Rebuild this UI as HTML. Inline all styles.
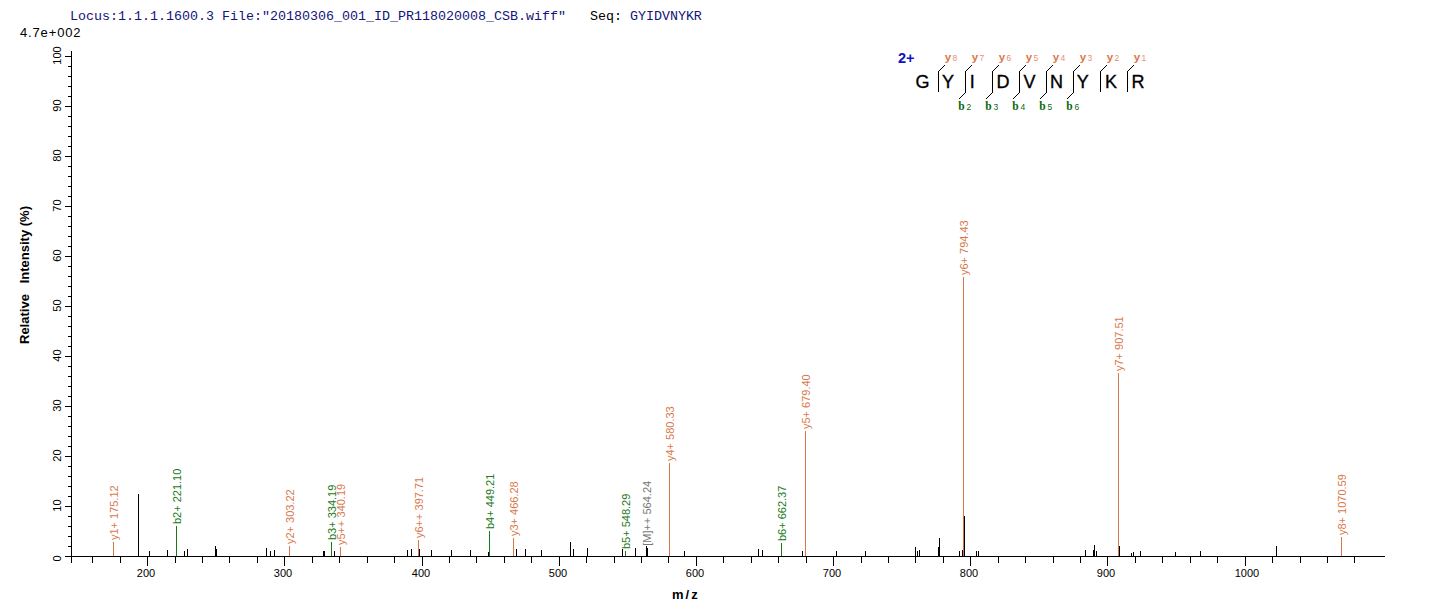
<!DOCTYPE html><html><head><meta charset="utf-8"><style>html,body{margin:0;padding:0;background:#fff;}body{width:1436px;height:616px;overflow:hidden;}svg{display:block;}text{font-family:"Liberation Sans",sans-serif;}.mono{font-family:"Liberation Mono",monospace;}.serif{font-family:"Liberation Serif",serif;}</style></head><body style="position:relative">
<svg width="1436" height="616" viewBox="0 0 1436 616" shape-rendering="crispEdges">
<text class="mono" x="70" y="20" font-size="13.33" fill="#14147a" xml:space="preserve" style="white-space:pre">Locus:1.1.1.1600.3 File:"20180306_001_ID_PR118020008_CSB.wiff"   <tspan fill="#000">Seq:</tspan> GYIDVNYKR</text>
<text x="20" y="37" font-size="13" letter-spacing="0.85" fill="#000">4.7e+002</text>
<rect x="71" y="51" width="1" height="512" fill="#000"/>
<rect x="71" y="556" width="1314" height="1" fill="#000"/>
<rect x="65" y="556" width="6" height="1" fill="#000"/>
<rect x="68" y="546" width="3" height="1" fill="#000"/>
<rect x="68" y="536" width="3" height="1" fill="#000"/>
<rect x="68" y="526" width="3" height="1" fill="#000"/>
<rect x="68" y="516" width="3" height="1" fill="#000"/>
<rect x="65" y="506" width="6" height="1" fill="#000"/>
<rect x="68" y="496" width="3" height="1" fill="#000"/>
<rect x="68" y="486" width="3" height="1" fill="#000"/>
<rect x="68" y="476" width="3" height="1" fill="#000"/>
<rect x="68" y="466" width="3" height="1" fill="#000"/>
<rect x="65" y="456" width="6" height="1" fill="#000"/>
<rect x="68" y="446" width="3" height="1" fill="#000"/>
<rect x="68" y="436" width="3" height="1" fill="#000"/>
<rect x="68" y="426" width="3" height="1" fill="#000"/>
<rect x="68" y="416" width="3" height="1" fill="#000"/>
<rect x="65" y="406" width="6" height="1" fill="#000"/>
<rect x="68" y="396" width="3" height="1" fill="#000"/>
<rect x="68" y="386" width="3" height="1" fill="#000"/>
<rect x="68" y="376" width="3" height="1" fill="#000"/>
<rect x="68" y="366" width="3" height="1" fill="#000"/>
<rect x="65" y="356" width="6" height="1" fill="#000"/>
<rect x="68" y="346" width="3" height="1" fill="#000"/>
<rect x="68" y="336" width="3" height="1" fill="#000"/>
<rect x="68" y="326" width="3" height="1" fill="#000"/>
<rect x="68" y="316" width="3" height="1" fill="#000"/>
<rect x="65" y="306" width="6" height="1" fill="#000"/>
<rect x="68" y="296" width="3" height="1" fill="#000"/>
<rect x="68" y="286" width="3" height="1" fill="#000"/>
<rect x="68" y="276" width="3" height="1" fill="#000"/>
<rect x="68" y="266" width="3" height="1" fill="#000"/>
<rect x="65" y="256" width="6" height="1" fill="#000"/>
<rect x="68" y="246" width="3" height="1" fill="#000"/>
<rect x="68" y="236" width="3" height="1" fill="#000"/>
<rect x="68" y="226" width="3" height="1" fill="#000"/>
<rect x="68" y="216" width="3" height="1" fill="#000"/>
<rect x="65" y="206" width="6" height="1" fill="#000"/>
<rect x="68" y="196" width="3" height="1" fill="#000"/>
<rect x="68" y="186" width="3" height="1" fill="#000"/>
<rect x="68" y="176" width="3" height="1" fill="#000"/>
<rect x="68" y="166" width="3" height="1" fill="#000"/>
<rect x="65" y="156" width="6" height="1" fill="#000"/>
<rect x="68" y="146" width="3" height="1" fill="#000"/>
<rect x="68" y="136" width="3" height="1" fill="#000"/>
<rect x="68" y="126" width="3" height="1" fill="#000"/>
<rect x="68" y="116" width="3" height="1" fill="#000"/>
<rect x="65" y="106" width="6" height="1" fill="#000"/>
<rect x="68" y="96" width="3" height="1" fill="#000"/>
<rect x="68" y="86" width="3" height="1" fill="#000"/>
<rect x="68" y="76" width="3" height="1" fill="#000"/>
<rect x="68" y="66" width="3" height="1" fill="#000"/>
<rect x="65" y="56" width="6" height="1" fill="#000"/>
<text transform="translate(61,558.5) rotate(-90)" font-size="11" text-anchor="middle" fill="#000">0</text>
<text transform="translate(61,505.5) rotate(-90)" font-size="11" text-anchor="middle" fill="#000">10</text>
<text transform="translate(61,455.5) rotate(-90)" font-size="11" text-anchor="middle" fill="#000">20</text>
<text transform="translate(61,405.5) rotate(-90)" font-size="11" text-anchor="middle" fill="#000">30</text>
<text transform="translate(61,355.5) rotate(-90)" font-size="11" text-anchor="middle" fill="#000">40</text>
<text transform="translate(61,305.5) rotate(-90)" font-size="11" text-anchor="middle" fill="#000">50</text>
<text transform="translate(61,255.5) rotate(-90)" font-size="11" text-anchor="middle" fill="#000">60</text>
<text transform="translate(61,205.5) rotate(-90)" font-size="11" text-anchor="middle" fill="#000">70</text>
<text transform="translate(61,155.5) rotate(-90)" font-size="11" text-anchor="middle" fill="#000">80</text>
<text transform="translate(61,105.5) rotate(-90)" font-size="11" text-anchor="middle" fill="#000">90</text>
<text transform="translate(61,55.5) rotate(-90)" font-size="11" text-anchor="middle" fill="#000">100</text>
<rect x="92" y="556" width="1" height="7" fill="#000"/>
<rect x="120" y="556" width="1" height="7" fill="#000"/>
<rect x="147" y="556" width="1" height="10" fill="#000"/>
<text x="146" y="577" font-size="11" text-anchor="middle" fill="#000">200</text>
<rect x="175" y="556" width="1" height="7" fill="#000"/>
<rect x="202" y="556" width="1" height="7" fill="#000"/>
<rect x="229" y="556" width="1" height="7" fill="#000"/>
<rect x="257" y="556" width="1" height="7" fill="#000"/>
<rect x="284" y="556" width="1" height="10" fill="#000"/>
<text x="283" y="577" font-size="11" text-anchor="middle" fill="#000">300</text>
<rect x="312" y="556" width="1" height="7" fill="#000"/>
<rect x="339" y="556" width="1" height="7" fill="#000"/>
<rect x="367" y="556" width="1" height="7" fill="#000"/>
<rect x="394" y="556" width="1" height="7" fill="#000"/>
<rect x="422" y="556" width="1" height="10" fill="#000"/>
<text x="421" y="577" font-size="11" text-anchor="middle" fill="#000">400</text>
<rect x="449" y="556" width="1" height="7" fill="#000"/>
<rect x="476" y="556" width="1" height="7" fill="#000"/>
<rect x="504" y="556" width="1" height="7" fill="#000"/>
<rect x="531" y="556" width="1" height="7" fill="#000"/>
<rect x="559" y="556" width="1" height="10" fill="#000"/>
<text x="558" y="577" font-size="11" text-anchor="middle" fill="#000">500</text>
<rect x="586" y="556" width="1" height="7" fill="#000"/>
<rect x="614" y="556" width="1" height="7" fill="#000"/>
<rect x="641" y="556" width="1" height="7" fill="#000"/>
<rect x="668" y="556" width="1" height="7" fill="#000"/>
<rect x="696" y="556" width="1" height="10" fill="#000"/>
<text x="695" y="577" font-size="11" text-anchor="middle" fill="#000">600</text>
<rect x="723" y="556" width="1" height="7" fill="#000"/>
<rect x="751" y="556" width="1" height="7" fill="#000"/>
<rect x="778" y="556" width="1" height="7" fill="#000"/>
<rect x="806" y="556" width="1" height="7" fill="#000"/>
<rect x="833" y="556" width="1" height="10" fill="#000"/>
<text x="832" y="577" font-size="11" text-anchor="middle" fill="#000">700</text>
<rect x="861" y="556" width="1" height="7" fill="#000"/>
<rect x="888" y="556" width="1" height="7" fill="#000"/>
<rect x="915" y="556" width="1" height="7" fill="#000"/>
<rect x="943" y="556" width="1" height="7" fill="#000"/>
<rect x="970" y="556" width="1" height="10" fill="#000"/>
<text x="969" y="577" font-size="11" text-anchor="middle" fill="#000">800</text>
<rect x="998" y="556" width="1" height="7" fill="#000"/>
<rect x="1025" y="556" width="1" height="7" fill="#000"/>
<rect x="1053" y="556" width="1" height="7" fill="#000"/>
<rect x="1080" y="556" width="1" height="7" fill="#000"/>
<rect x="1107" y="556" width="1" height="10" fill="#000"/>
<text x="1106" y="577" font-size="11" text-anchor="middle" fill="#000">900</text>
<rect x="1135" y="556" width="1" height="7" fill="#000"/>
<rect x="1162" y="556" width="1" height="7" fill="#000"/>
<rect x="1190" y="556" width="1" height="7" fill="#000"/>
<rect x="1217" y="556" width="1" height="7" fill="#000"/>
<rect x="1245" y="556" width="1" height="10" fill="#000"/>
<text x="1247" y="577" font-size="11" text-anchor="middle" fill="#000">1000</text>
<rect x="1272" y="556" width="1" height="7" fill="#000"/>
<rect x="1300" y="556" width="1" height="7" fill="#000"/>
<rect x="1327" y="556" width="1" height="7" fill="#000"/>
<rect x="1354" y="556" width="1" height="7" fill="#000"/>
<text transform="translate(28.5,344) rotate(-90)" font-size="13" font-weight="bold" fill="#000" xml:space="preserve" style="white-space:pre">Relative   Intensity (%)</text>
<text x="672" y="599" font-size="13" font-weight="bold" letter-spacing="2" fill="#000">m/z</text>
<rect x="138" y="494" width="1" height="62" fill="#000"/>
<rect x="149" y="551" width="1" height="5" fill="#000"/>
<rect x="167" y="550" width="1" height="6" fill="#000"/>
<rect x="184" y="551" width="1" height="5" fill="#000"/>
<rect x="187" y="549" width="1" height="7" fill="#000"/>
<rect x="215" y="546" width="1" height="10" fill="#000"/>
<rect x="216" y="549" width="1" height="7" fill="#000"/>
<rect x="266" y="548" width="1" height="8" fill="#000"/>
<rect x="270" y="551" width="1" height="5" fill="#000"/>
<rect x="274" y="550" width="1" height="6" fill="#000"/>
<rect x="323" y="551" width="1" height="5" fill="#000"/>
<rect x="324" y="551" width="1" height="5" fill="#000"/>
<rect x="334" y="551" width="1" height="5" fill="#000"/>
<rect x="407" y="550" width="1" height="6" fill="#000"/>
<rect x="411" y="549" width="1" height="7" fill="#000"/>
<rect x="419" y="549" width="1" height="7" fill="#000"/>
<rect x="431" y="550" width="1" height="6" fill="#000"/>
<rect x="451" y="550" width="1" height="6" fill="#000"/>
<rect x="470" y="550" width="1" height="6" fill="#000"/>
<rect x="488" y="552" width="1" height="4" fill="#000"/>
<rect x="516" y="549" width="1" height="7" fill="#000"/>
<rect x="525" y="549" width="1" height="7" fill="#000"/>
<rect x="541" y="550" width="1" height="6" fill="#000"/>
<rect x="570" y="542" width="1" height="14" fill="#000"/>
<rect x="573" y="549" width="1" height="7" fill="#000"/>
<rect x="587" y="548" width="1" height="8" fill="#000"/>
<rect x="622" y="549" width="1" height="7" fill="#000"/>
<rect x="635" y="548" width="1" height="8" fill="#000"/>
<rect x="647" y="548" width="1" height="8" fill="#000"/>
<rect x="684" y="551" width="1" height="5" fill="#000"/>
<rect x="758" y="549" width="1" height="7" fill="#000"/>
<rect x="762" y="550" width="1" height="6" fill="#000"/>
<rect x="802" y="551" width="1" height="5" fill="#000"/>
<rect x="836" y="551" width="1" height="5" fill="#000"/>
<rect x="865" y="551" width="1" height="5" fill="#000"/>
<rect x="915" y="547" width="1" height="9" fill="#000"/>
<rect x="917" y="551" width="1" height="5" fill="#000"/>
<rect x="919" y="550" width="1" height="6" fill="#000"/>
<rect x="938" y="547" width="1" height="9" fill="#000"/>
<rect x="939" y="538" width="1" height="18" fill="#000"/>
<rect x="959" y="551" width="1" height="5" fill="#000"/>
<rect x="962" y="550" width="1" height="6" fill="#000"/>
<rect x="964" y="516" width="1" height="40" fill="#000"/>
<rect x="976" y="551" width="1" height="5" fill="#000"/>
<rect x="978" y="551" width="1" height="5" fill="#000"/>
<rect x="1085" y="550" width="1" height="6" fill="#000"/>
<rect x="1093" y="550" width="1" height="6" fill="#000"/>
<rect x="1094" y="545" width="1" height="11" fill="#000"/>
<rect x="1096" y="551" width="1" height="5" fill="#000"/>
<rect x="1119" y="546" width="1" height="10" fill="#000"/>
<rect x="1131" y="553" width="1" height="3" fill="#000"/>
<rect x="1133" y="552" width="1" height="4" fill="#000"/>
<rect x="1140" y="551" width="1" height="5" fill="#000"/>
<rect x="1175" y="552" width="1" height="4" fill="#000"/>
<rect x="1200" y="551" width="1" height="5" fill="#000"/>
<rect x="1276" y="546" width="1" height="10" fill="#000"/>
<rect x="113" y="542" width="1" height="14" fill="#d8784a"/>
<text transform="translate(118,540) rotate(-90)" font-size="11" fill="#d8784a">y1+ 175.12</text>
<rect x="176" y="526" width="1" height="30" fill="#1a7a1a"/>
<text transform="translate(181,524) rotate(-90)" font-size="11" fill="#1a7a1a">b2+ 221.10</text>
<rect x="289" y="546" width="1" height="10" fill="#d8784a"/>
<text transform="translate(294,544) rotate(-90)" font-size="11" fill="#d8784a">y2+ 303.22</text>
<rect x="331" y="542" width="1" height="14" fill="#1a7a1a"/>
<text transform="translate(336,540) rotate(-90)" font-size="11" fill="#1a7a1a">b3+ 334.19</text>
<rect x="340" y="547" width="1" height="9" fill="#d8784a"/>
<text transform="translate(345,545) rotate(-90)" font-size="11" fill="#d8784a">y5++ 340.19</text>
<rect x="418" y="540" width="1" height="16" fill="#d8784a"/>
<text transform="translate(423,538) rotate(-90)" font-size="11" fill="#d8784a">y6++ 397.71</text>
<rect x="489" y="531" width="1" height="25" fill="#1a7a1a"/>
<text transform="translate(494,529) rotate(-90)" font-size="11" fill="#1a7a1a">b4+ 449.21</text>
<rect x="513" y="538" width="1" height="18" fill="#d8784a"/>
<text transform="translate(518,536) rotate(-90)" font-size="11" fill="#d8784a">y3+ 466.28</text>
<rect x="625" y="551" width="1" height="5" fill="#1a7a1a"/>
<text transform="translate(630,549) rotate(-90)" font-size="11" fill="#1a7a1a">b5+ 548.29</text>
<rect x="646" y="546" width="1" height="10" fill="#000"/>
<text transform="translate(651,545.7) rotate(-90)" font-size="11" fill="#777">[M]++ 564.24</text>
<rect x="669" y="463" width="1" height="93" fill="#d8784a"/>
<text transform="translate(674,461) rotate(-90)" font-size="11" fill="#d8784a">y4+ 580.33</text>
<rect x="781" y="543" width="1" height="13" fill="#1a7a1a"/>
<text transform="translate(786,541) rotate(-90)" font-size="11" fill="#1a7a1a">b6+ 662.37</text>
<rect x="805" y="431" width="1" height="125" fill="#d8784a"/>
<text transform="translate(810,429) rotate(-90)" font-size="11" fill="#d8784a">y5+ 679.40</text>
<rect x="963" y="277" width="1" height="279" fill="#d8784a"/>
<text transform="translate(968,275) rotate(-90)" font-size="11" fill="#d8784a">y6+ 794.43</text>
<rect x="1118" y="373" width="1" height="183" fill="#d8784a"/>
<text transform="translate(1123,371) rotate(-90)" font-size="11" fill="#d8784a">y7+ 907.51</text>
<rect x="1341" y="537" width="1" height="19" fill="#d8784a"/>
<text transform="translate(1346,535) rotate(-90)" font-size="11" fill="#d8784a">y8+ 1070.59</text>
<text x="898" y="62.5" font-size="14.5" font-weight="bold" fill="#1010c0">2+</text>
<text x="922.5" y="88" font-size="18" text-anchor="middle" fill="#000" stroke="#000" stroke-width="0.35">G</text>
<text x="948" y="88" font-size="18" text-anchor="middle" fill="#000" stroke="#000" stroke-width="0.35">Y</text>
<text x="972.2" y="88" font-size="18" text-anchor="middle" fill="#000" stroke="#000" stroke-width="0.35">I</text>
<text x="1003" y="88" font-size="18" text-anchor="middle" fill="#000" stroke="#000" stroke-width="0.35">D</text>
<text x="1029.4" y="88" font-size="18" text-anchor="middle" fill="#000" stroke="#000" stroke-width="0.35">V</text>
<text x="1056.5" y="88" font-size="18" text-anchor="middle" fill="#000" stroke="#000" stroke-width="0.35">N</text>
<text x="1082.8" y="88" font-size="18" text-anchor="middle" fill="#000" stroke="#000" stroke-width="0.35">Y</text>
<text x="1111.1" y="88" font-size="18" text-anchor="middle" fill="#000" stroke="#000" stroke-width="0.35">K</text>
<text x="1137.9" y="88" font-size="18" text-anchor="middle" fill="#000" stroke="#000" stroke-width="0.35">R</text>
<rect x="938" y="71" width="1" height="21" fill="#000"/>
<rect x="939" y="70" width="1" height="1" fill="#000"/>
<rect x="940" y="69" width="1" height="1" fill="#000"/>
<rect x="941" y="68" width="1" height="1" fill="#000"/>
<rect x="942" y="67" width="1" height="1" fill="#000"/>
<rect x="943" y="66" width="1" height="1" fill="#000"/>
<rect x="944" y="65" width="1" height="1" fill="#000"/>
<text x="944.7" y="61" font-size="11.5" font-weight="bold" fill="#d8784a">y</text>
<text x="952.5" y="61" font-size="8.5" fill="#e89070">8</text>
<rect x="965" y="71" width="1" height="22" fill="#000"/>
<rect x="966" y="70" width="1" height="1" fill="#000"/>
<rect x="967" y="69" width="1" height="1" fill="#000"/>
<rect x="968" y="68" width="1" height="1" fill="#000"/>
<rect x="969" y="67" width="1" height="1" fill="#000"/>
<rect x="970" y="66" width="1" height="1" fill="#000"/>
<rect x="971" y="65" width="1" height="1" fill="#000"/>
<rect x="964" y="93" width="1" height="1" fill="#000"/>
<rect x="963" y="94" width="1" height="1" fill="#000"/>
<rect x="962" y="95" width="1" height="1" fill="#000"/>
<rect x="961" y="96" width="1" height="1" fill="#000"/>
<rect x="960" y="97" width="1" height="1" fill="#000"/>
<rect x="959" y="98" width="1" height="1" fill="#000"/>
<text x="971.7" y="61" font-size="11.5" font-weight="bold" fill="#d8784a">y</text>
<text x="979.5" y="61" font-size="8.5" fill="#e89070">7</text>
<text class="serif" x="958.2" y="110" font-size="11.5" font-weight="bold" fill="#0c680c">b</text>
<text x="966.5" y="110" font-size="8.5" fill="#0c680c">2</text>
<rect x="992" y="71" width="1" height="22" fill="#000"/>
<rect x="993" y="70" width="1" height="1" fill="#000"/>
<rect x="994" y="69" width="1" height="1" fill="#000"/>
<rect x="995" y="68" width="1" height="1" fill="#000"/>
<rect x="996" y="67" width="1" height="1" fill="#000"/>
<rect x="997" y="66" width="1" height="1" fill="#000"/>
<rect x="998" y="65" width="1" height="1" fill="#000"/>
<rect x="991" y="93" width="1" height="1" fill="#000"/>
<rect x="990" y="94" width="1" height="1" fill="#000"/>
<rect x="989" y="95" width="1" height="1" fill="#000"/>
<rect x="988" y="96" width="1" height="1" fill="#000"/>
<rect x="987" y="97" width="1" height="1" fill="#000"/>
<rect x="986" y="98" width="1" height="1" fill="#000"/>
<text x="998.7" y="61" font-size="11.5" font-weight="bold" fill="#d8784a">y</text>
<text x="1006.5" y="61" font-size="8.5" fill="#e89070">6</text>
<text class="serif" x="985.2" y="110" font-size="11.5" font-weight="bold" fill="#0c680c">b</text>
<text x="993.5" y="110" font-size="8.5" fill="#0c680c">3</text>
<rect x="1019" y="71" width="1" height="22" fill="#000"/>
<rect x="1020" y="70" width="1" height="1" fill="#000"/>
<rect x="1021" y="69" width="1" height="1" fill="#000"/>
<rect x="1022" y="68" width="1" height="1" fill="#000"/>
<rect x="1023" y="67" width="1" height="1" fill="#000"/>
<rect x="1024" y="66" width="1" height="1" fill="#000"/>
<rect x="1025" y="65" width="1" height="1" fill="#000"/>
<rect x="1018" y="93" width="1" height="1" fill="#000"/>
<rect x="1017" y="94" width="1" height="1" fill="#000"/>
<rect x="1016" y="95" width="1" height="1" fill="#000"/>
<rect x="1015" y="96" width="1" height="1" fill="#000"/>
<rect x="1014" y="97" width="1" height="1" fill="#000"/>
<rect x="1013" y="98" width="1" height="1" fill="#000"/>
<text x="1025.7" y="61" font-size="11.5" font-weight="bold" fill="#d8784a">y</text>
<text x="1033.5" y="61" font-size="8.5" fill="#e89070">5</text>
<text class="serif" x="1012.2" y="110" font-size="11.5" font-weight="bold" fill="#0c680c">b</text>
<text x="1020.5" y="110" font-size="8.5" fill="#0c680c">4</text>
<rect x="1046" y="71" width="1" height="22" fill="#000"/>
<rect x="1047" y="70" width="1" height="1" fill="#000"/>
<rect x="1048" y="69" width="1" height="1" fill="#000"/>
<rect x="1049" y="68" width="1" height="1" fill="#000"/>
<rect x="1050" y="67" width="1" height="1" fill="#000"/>
<rect x="1051" y="66" width="1" height="1" fill="#000"/>
<rect x="1052" y="65" width="1" height="1" fill="#000"/>
<rect x="1045" y="93" width="1" height="1" fill="#000"/>
<rect x="1044" y="94" width="1" height="1" fill="#000"/>
<rect x="1043" y="95" width="1" height="1" fill="#000"/>
<rect x="1042" y="96" width="1" height="1" fill="#000"/>
<rect x="1041" y="97" width="1" height="1" fill="#000"/>
<rect x="1040" y="98" width="1" height="1" fill="#000"/>
<text x="1052.7" y="61" font-size="11.5" font-weight="bold" fill="#d8784a">y</text>
<text x="1060.5" y="61" font-size="8.5" fill="#e89070">4</text>
<text class="serif" x="1039.2" y="110" font-size="11.5" font-weight="bold" fill="#0c680c">b</text>
<text x="1047.5" y="110" font-size="8.5" fill="#0c680c">5</text>
<rect x="1073" y="71" width="1" height="22" fill="#000"/>
<rect x="1074" y="70" width="1" height="1" fill="#000"/>
<rect x="1075" y="69" width="1" height="1" fill="#000"/>
<rect x="1076" y="68" width="1" height="1" fill="#000"/>
<rect x="1077" y="67" width="1" height="1" fill="#000"/>
<rect x="1078" y="66" width="1" height="1" fill="#000"/>
<rect x="1079" y="65" width="1" height="1" fill="#000"/>
<rect x="1072" y="93" width="1" height="1" fill="#000"/>
<rect x="1071" y="94" width="1" height="1" fill="#000"/>
<rect x="1070" y="95" width="1" height="1" fill="#000"/>
<rect x="1069" y="96" width="1" height="1" fill="#000"/>
<rect x="1068" y="97" width="1" height="1" fill="#000"/>
<rect x="1067" y="98" width="1" height="1" fill="#000"/>
<text x="1079.7" y="61" font-size="11.5" font-weight="bold" fill="#d8784a">y</text>
<text x="1087.5" y="61" font-size="8.5" fill="#e89070">3</text>
<text class="serif" x="1066.2" y="110" font-size="11.5" font-weight="bold" fill="#0c680c">b</text>
<text x="1074.5" y="110" font-size="8.5" fill="#0c680c">6</text>
<rect x="1100" y="71" width="1" height="21" fill="#000"/>
<rect x="1101" y="70" width="1" height="1" fill="#000"/>
<rect x="1102" y="69" width="1" height="1" fill="#000"/>
<rect x="1103" y="68" width="1" height="1" fill="#000"/>
<rect x="1104" y="67" width="1" height="1" fill="#000"/>
<rect x="1105" y="66" width="1" height="1" fill="#000"/>
<rect x="1106" y="65" width="1" height="1" fill="#000"/>
<text x="1106.7" y="61" font-size="11.5" font-weight="bold" fill="#d8784a">y</text>
<text x="1114.5" y="61" font-size="8.5" fill="#e89070">2</text>
<rect x="1127" y="71" width="1" height="21" fill="#000"/>
<rect x="1128" y="70" width="1" height="1" fill="#000"/>
<rect x="1129" y="69" width="1" height="1" fill="#000"/>
<rect x="1130" y="68" width="1" height="1" fill="#000"/>
<rect x="1131" y="67" width="1" height="1" fill="#000"/>
<rect x="1132" y="66" width="1" height="1" fill="#000"/>
<rect x="1133" y="65" width="1" height="1" fill="#000"/>
<text x="1133.7" y="61" font-size="11.5" font-weight="bold" fill="#d8784a">y</text>
<text x="1141.5" y="61" font-size="8.5" fill="#e89070">1</text>
</svg>
</body></html>
